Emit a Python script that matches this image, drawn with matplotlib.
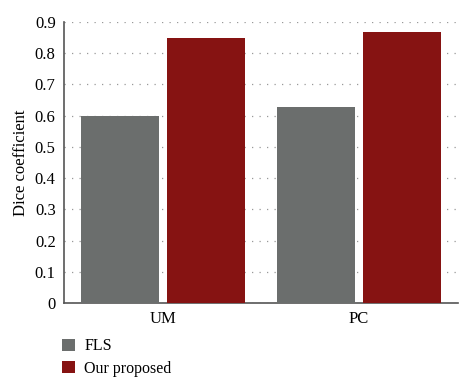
import matplotlib
matplotlib.use('Agg')
import matplotlib.pyplot as plt
import numpy as np

plt.rcParams['font.family'] = 'Liberation Serif'

categories = ['UM', 'PC']
fls = [0.60, 0.628]
proposed = [0.85, 0.868]
series_names = ['FLS', 'Our proposed']
colors = ['#6b6e6d', '#861312']

fig = plt.figure(figsize=(4.74, 3.91), dpi=100)
ax = fig.add_axes([0.135, 0.225, 0.831, 0.719])

x = np.arange(len(categories))
w = 0.40
ax.bar(x - 0.22, fls, w, color=colors[0], label=series_names[0], zorder=3)
ax.bar(x + 0.22, proposed, w, color=colors[1], label=series_names[1], zorder=3)

ax.set_xlim(-0.505, 1.505)
ax.set_ylim(0, 0.9)
ax.set_yticks(np.arange(0, 0.91, 0.1))
ax.set_yticklabels(['0'] + ['%.1f' % v for v in np.arange(0.1, 0.91, 0.1)])
ax.set_xticks(x)
ax.set_xticklabels(categories)
ax.tick_params(axis='both', length=0, labelsize=12, pad=6)
ax.yaxis.grid(True, linestyle=(0, (1, 5)), color='#999999', linewidth=0.9, zorder=0)
ax.set_ylabel('Dice coefficient', fontsize=12, labelpad=4)

for s in ['top', 'right']:
    ax.spines[s].set_visible(False)
for s in ['left', 'bottom']:
    ax.spines[s].set_color('#555555')
    ax.spines[s].set_linewidth(1.2)

fig.legend(loc='lower left', bbox_to_anchor=(0.1, 0.0), frameon=False,
           handlelength=0.8, handleheight=0.8, handletextpad=0.6,
           labelspacing=0.4, fontsize=11.5)

fig.savefig('out.png', dpi=100)
